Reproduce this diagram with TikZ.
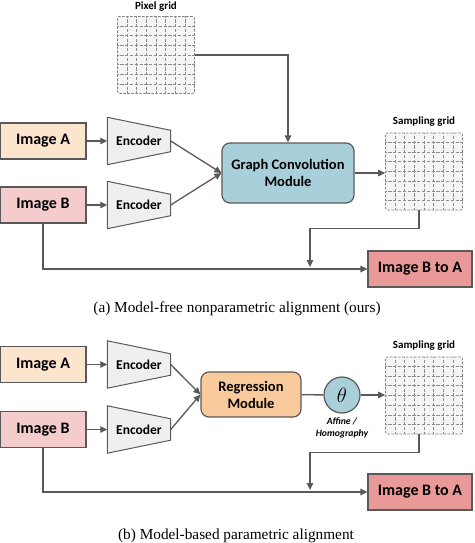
\documentclass[tikz,border=0pt]{standalone}
\usepackage{fontspec}
\setmainfont{Liberation Serif}
\newfontfamily\labelfont{Carlito}
\usetikzlibrary{arrows.meta,calc,positioning,backgrounds}
\definecolor{edgegray}{HTML}{595959}
\definecolor{imgAfill}{HTML}{FCE5CD}
\definecolor{imgBfill}{HTML}{F4CCCC}
\definecolor{outfill}{HTML}{EA9999}
\definecolor{encfill}{HTML}{EFEFEF}
\definecolor{gcmfill}{HTML}{A8CFDA}
\definecolor{regfill}{HTML}{F9CB9C}
\tikzset{
imgbox/.style={
	draw=edgegray, line width=1.2pt, minimum width=86pt, minimum height=36pt,
	inner sep=0pt, font=\labelfont\bfseries\fontsize{16}{16}\selectfont},
encbox/.style={
	minimum width=63pt, minimum height=47pt, inner sep=0pt,
	font=\labelfont\bfseries\fontsize{13.5}{13.5}\selectfont},
enctrap/.style={draw=edgegray, fill=encfill, line width=1pt},
module/.style={
	draw=edgegray, line width=1.2pt, rounded corners=8pt, align=center,
	font=\labelfont\bfseries\fontsize{14.5}{17}\selectfont},
gridbox/.style={
	draw=black!50, fill=gray!8, dash pattern=on 2.5pt off 1.5pt, line width=0.7pt,
	rounded corners=2pt, minimum size=77pt, inner sep=0pt},
gridline/.style={black!45, line width=0.6pt, dash pattern=on 3.2pt off 1.6pt, dash phase=1.6pt},
gridlabel/.style={font=\labelfont\bfseries\fontsize{11}{11}\selectfont},
conn/.style={draw=edgegray, line width=1.3pt},
arr/.style={conn, -{Triangle[length=7pt,width=6.5pt]}},
caption/.style={font=\fontsize{15.3}{15.3}\selectfont}
}
% dashed 8x8 grid inside a grid box
\newcommand{\gridlines}[1]{
	\foreach \k in {1,...,7} {
		\draw[gridline] ($(#1.north west)!\k/8!(#1.north east)$) -- ($(#1.south west)!\k/8!(#1.south east)$);
		\draw[gridline] ($(#1.north west)!\k/8!(#1.south west)$) -- ($(#1.north east)!\k/8!(#1.south east)$);
	}
}
% trapezoid behind an encoder node, wide side on the left
\newcommand{\encshape}[1]{
	\begin{scope}[on background layer]
		\draw[enctrap] (#1.north west) -- ($(#1.north east)+(0,13)$)
			-- ($(#1.south east)+(0,-13)$) -- (#1.south west) -- cycle;
	\end{scope}
}

\begin{document}
\begin{tikzpicture}[x=1pt, y=-1pt]
	\useasboundingbox (0,0) rectangle (474,543);

	% (a) nonparametric alignment
	\node[gridbox] (pgrid) at (156,55) {};
	\gridlines{pgrid}
	\node[gridlabel] (pgridlbl) at (156,7) {Pixel grid};

	\node[imgbox, fill=imgAfill] (imgA) at (43,141) {Image A};
	\node[imgbox, fill=imgBfill] (imgB) at (43,205) {Image B};
	\node[encbox] (encA) at (139,141) {Encoder};
	\encshape{encA}
	\node[encbox] (encB) at (139,205) {Encoder};
	\encshape{encB}
	\node[module, fill=gcmfill, minimum width=132pt, minimum height=60pt] (gcm) at (288,173)
		{Graph Convolution\\Module};
	\node[gridbox] (sgrid) at (424,171.5) {};
	\gridlines{sgrid}
	\node[gridlabel] (sgridlbl) at (424,122) {Sampling grid};
	\node[imgbox, fill=outfill, minimum width=104pt] (out) at (420,269) {Image B to A};
	\coordinate (merge) at (310,267);

	\draw[arr] (imgA) -- (encA);
	\draw[arr] (imgB) -- (encB);
	\draw[arr] (encA.east) -- (gcm.west);
	\draw[arr] (encB.east) -- (gcm.west);
	\draw[arr] (pgrid.east) -| (gcm.north);
	\draw[arr] (gcm.east) -- (gcm.east -| sgrid.west);
	\draw[arr] ([xshift=-5pt]sgrid.south) -- ++(0,18) -| (merge);
	\draw[arr] (imgB.south) |- (out.west);

	\node[caption] (capA) at (237,309) {(a) Model-free nonparametric alignment (ours)};

	% (b) parametric alignment
	\node[imgbox, fill=imgAfill] (imgA2) at (43,364.5) {Image A};
	\node[imgbox, fill=imgBfill] (imgB2) at (43,429.5) {Image B};
	\node[encbox] (encA2) at (139,364.5) {Encoder};
	\encshape{encA2}
	\node[encbox] (encB2) at (139,429.5) {Encoder};
	\encshape{encB2}
	\node[module, fill=regfill, minimum width=100pt, minimum height=45pt] (reg) at (251,394.5)
		{Regression\\Module};
	\node[circle, draw=edgegray, fill=gcmfill, line width=1.2pt, minimum size=36pt, inner sep=0pt,
		font=\fontsize{20}{20}\selectfont] (theta) at (342,395) {$\theta$};
	\node[align=center, font=\labelfont\bfseries\itshape\fontsize{9.7}{11.5}\selectfont,
		below=1pt of theta] (thetalbl) {Affine /\\Homography};
	\node[gridbox] (sgrid2) at (424,395.5) {};
	\gridlines{sgrid2}
	\node[gridlabel] (sgridlbl2) at (424,346) {Sampling grid};
	\node[imgbox, fill=outfill, minimum width=104pt] (out2) at (420,492) {Image B to A};
	\coordinate (merge2) at (310,490);

	\draw[arr] (imgA2) -- (encA2);
	\draw[arr] (imgB2) -- (encB2);
	\draw[arr] (encA2.east) -- (reg.west);
	\draw[arr] (encB2.east) -- (reg.west);
	\draw[conn] (reg) -- (theta);
	\draw[arr] (theta.east) -- (theta.east -| sgrid2.west);
	\draw[arr] ([xshift=-5pt]sgrid2.south) -- ++(0,18) -| (merge2);
	\draw[arr] (imgB2.south) |- (out2.west);

	\node[caption] (capB) at (236,536) {(b) Model-based parametric alignment};
\end{tikzpicture}
\end{document}
